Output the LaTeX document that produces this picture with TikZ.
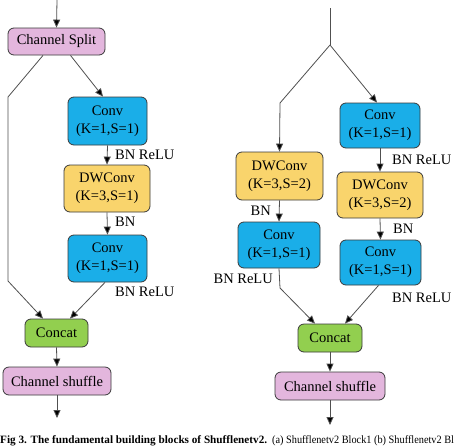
\documentclass[tikz,border=0pt]{standalone}
\usepackage{fontspec}
\setmainfont{Liberation Serif}
\usetikzlibrary{arrows.meta}
\definecolor{pinkbox}{HTML}{E3B6DD}
\definecolor{bluebox}{HTML}{1AAEE8}
\definecolor{yellowbox}{HTML}{F9D46C}
\definecolor{greenbox}{HTML}{92CF4F}
\definecolor{edgecol}{HTML}{3A3A3A}
\definecolor{linecol}{HTML}{505050}
\tikzset{
  blk/.style={draw=edgecol, line width=0.8pt, rounded corners=6pt, inner sep=0pt, align=center,
    font=\fontsize{14.5}{18}\selectfont},
  pinkb/.style={blk, fill=pinkbox},
  blueb/.style={blk, fill=bluebox},
  yellowb/.style={blk, fill=yellowbox},
  greenb/.style={blk, fill=greenbox},
  conn/.style={draw=linecol, line width=0.8pt},
  arr/.style={conn, -{Triangle[length=8pt,width=7pt,fill=black]}},
  lbl/.style={font=\fontsize{14.5}{16}\selectfont, inner sep=0pt}
}
\begin{document}
\begin{tikzpicture}[x=1pt,y=-1pt]
\useasboundingbox (0,0) rectangle (474,445);
\clip (0,0) rectangle (474,445);
\fill[white] (0,0) rectangle (474,445);

% ---------- left block ----------
\coordinate (inL) at (57,0);
\node[pinkb, minimum width=97pt, minimum height=27pt] (split) at (56.5,41.5) {Channel Split};
\node[blueb, minimum width=79pt, minimum height=48pt] (c1) at (107.5,121) {Conv\\(K=1,S=1)};
\node[yellowb, minimum width=86pt, minimum height=47pt] (d1) at (107,188.5) {DWConv\\(K=3,S=1)};
\node[blueb, minimum width=79pt, minimum height=47pt] (c2) at (107.5,258.5) {Conv\\(K=1,S=1)};
\node[greenb, minimum width=63pt, minimum height=28pt] (cat1) at (56.5,333) {Concat};
\node[pinkb, minimum width=108pt, minimum height=28pt] (sh1) at (57,381) {Channel shuffle};
\coordinate (outL) at (57,418);
\coordinate (lb1) at (8,97);
\coordinate (lb2) at (8,281);

\draw[arr] (inL) -- (split.north);
\draw[conn, arr] ([xshift=-13.5pt]split.south) -- (lb1) -- (lb2) -- ([xshift=-13.5pt]cat1.north);
\draw[arr] ([xshift=14pt]split.south) -- ([xshift=-4.5pt]c1.north);
\draw[arr] (c1.south) -- (d1.north);
\node[lbl, anchor=west] (l1) at (115,155) {BN ReLU};
\draw[arr] (d1.south) -- (c2.north);
\node[lbl, anchor=west] (l2) at (115,222) {BN};
\draw[arr] ([xshift=-2.5pt]c2.south) -- ([xshift=13.5pt]cat1.north);
\node[lbl, anchor=west] (l3) at (115,292) {BN ReLU};
\draw[arr] (cat1.south) -- (sh1.north);
\draw[arr] (sh1.south) -- (outL);

% ---------- right block ----------
\coordinate (rt) at (330,8);
\coordinate (rf) at (330,45);
\coordinate (rl) at (280,103);
\node[blueb, minimum width=80pt, minimum height=45pt] (c3) at (380,125.5) {Conv\\(K=1,S=1)};
\node[yellowb, minimum width=86pt, minimum height=46pt] (d3) at (380,195) {DWConv\\(K=3,S=2)};
\node[blueb, minimum width=81pt, minimum height=45pt] (c4) at (380.5,262.5) {Conv\\(K=1,S=1)};
\node[yellowb, minimum width=87pt, minimum height=48pt] (d2) at (279.5,176) {DWConv\\(K=3,S=2)};
\node[blueb, minimum width=82pt, minimum height=46pt] (c5) at (279,245) {Conv\\(K=1,S=1)};
\node[greenb, minimum width=64pt, minimum height=28pt] (cat2) at (330,338) {Concat};
\node[pinkb, minimum width=110pt, minimum height=28pt] (sh2) at (330,386) {Channel shuffle};
\coordinate (outR) at (330,425);
\coordinate (rb) at (280,288);

\draw[conn] (rt) -- (rf);
\draw[arr] (rf) -- (rl) -- (d2.north);
\draw[arr] (rf) -- ([xshift=-3pt]c3.north);
\draw[arr] (c3.south) -- (d3.north);
\node[lbl, anchor=west] (l4) at (392,160) {BN ReLU};
\draw[arr] (d3.south) -- (c4.north);
\node[lbl, anchor=west] (l5) at (393,229) {BN};
\node[lbl, anchor=west] (l6) at (392,298) {BN ReLU};
\draw[arr] (d2.south) -- (c5.north);
\node[lbl, anchor=east] (l7) at (271,211) {BN};
\node[lbl, anchor=east] (l8) at (273,279) {BN ReLU};
\draw[arr] (c5.south) -- (rb) -- ([xshift=-15pt]cat2.north);
\draw[arr] ([xshift=-2pt]c4.south) -- ([xshift=15pt]cat2.north);
\draw[arr] (cat2.south) -- (sh2.north);
\draw[arr] (sh2.south) -- (outR);

% ---------- caption (as far as the reference shows it) ----------
\node[anchor=base west, inner sep=0pt, font=\fontsize{11.2}{12}\selectfont] (cap) at (0,443.5)
  {\textbf{Fig 3. The fundamental building blocks of Shufflenetv2.}\hspace{5pt}\scalebox{0.92}[1]{(a) Shufflenetv2 Block1 (b) Shufflenetv2 Bl}};
\end{tikzpicture}
\end{document}
